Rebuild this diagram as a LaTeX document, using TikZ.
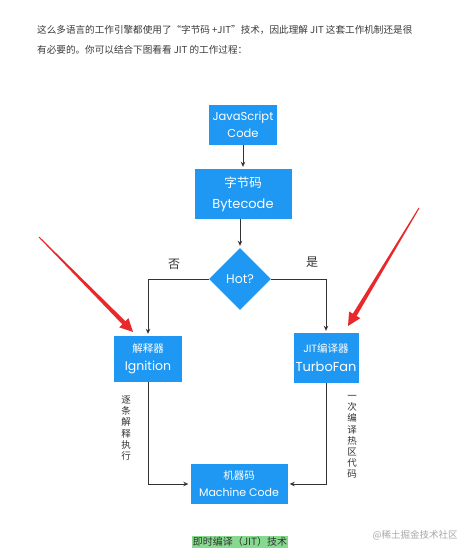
\documentclass[tikz,border=0pt]{standalone}
\usepackage{fontspec}
\setmainfont{Noto Sans CJK SC}
\newfontfamily\latinhand{Poppins}
\usetikzlibrary{arrows.meta,positioning,calc,shapes.geometric}
\definecolor{boxblue}{HTML}{1E98F2}
\definecolor{ink}{HTML}{333333}
\definecolor{markred}{HTML}{E8282B}
\definecolor{hilite}{HTML}{86D98F}
\definecolor{bodytext}{HTML}{3A3A3A}
\definecolor{wmark}{HTML}{A8A8A8}

% tapered red pointer from #1 to #2
\newcommand\markarrow[2]{%
  \coordinate (mb) at ($(#2)!13pt!(#1)$);
  \fill[markred] ($(#1)!0.5pt!90:(#2)$) -- ($(mb)!2.2pt!90:(#2)$)
    -- ($(mb)!6.5pt!90:(#2)$) -- (#2) -- ($(mb)!6.5pt!-90:(#2)$)
    -- ($(mb)!2.2pt!-90:(#2)$) -- ($(#1)!0.5pt!-90:(#2)$) -- cycle;}

\begin{document}
\begin{tikzpicture}[x=1pt,y=-1pt,
  block/.style={fill=boxblue,text=white,align=center,inner sep=0pt,
    font=\fontsize{10.5}{16}\selectfont},
  hot/.style={diamond,aspect=1,fill=boxblue,text=white,inner sep=0pt,
    minimum width=62pt,minimum height=62pt,font=\latinhand\fontsize{12.5}{14}\selectfont},
  flow/.style={-{Stealth[length=5pt,width=4.5pt]},ink,line width=0.9pt,shorten >=2pt},
  branch/.style={font=\fontsize{12}{14}\selectfont,text=ink},
  vlabel/.style={font=\fontsize{9.5}{11.2}\selectfont,text=ink,align=center,inner sep=0pt},
  para/.style={anchor=west,font=\fontsize{9.6}{13}\selectfont,text=bodytext,inner sep=0pt}]
\useasboundingbox (0,0) rectangle (474,556);
\fill[white] (0,0) rectangle (474,556);

\node[para] (line1) at (37,30) {这么多语言的工作引擎都使用了“字节码 +JIT”技术，因此理解 JIT 这套工作机制还是很};
\node[para] (line2) at (37,50) {有必要的。你可以结合下图看看 JIT 的工作过程：};

\node[block,minimum width=68pt,minimum height=40pt,font=\latinhand\fontsize{11.5}{17}\selectfont] (js) at (243,125)
  {JavaScript\\Code};
\node[block,minimum width=97pt,minimum height=50pt,font=\fontsize{12.5}{21}\selectfont] (bc) at (243,194)
  {字节码\\{\latinhand\fontsize{13}{13}\selectfont Bytecode}};
\node[hot] (check) at (240,279) {Hot?};
\node[block,minimum width=68pt,minimum height=46pt,font=\fontsize{10.5}{18}\selectfont] (ign) at (148,359)
  {解释器\\{\latinhand\fontsize{12.5}{12.5}\selectfont Ignition}};
\node[block,minimum width=65pt,minimum height=50pt,font=\fontsize{10.5}{19}\selectfont] (tf) at (326,358)
  {{\latinhand JIT}编译器\\{\latinhand\fontsize{13}{13}\selectfont TurboFan}};
\node[block,minimum width=97pt,minimum height=40pt,font=\fontsize{10.5}{17}\selectfont] (mc) at (239,484)
  {机器码\\{\latinhand\fontsize{11}{11}\selectfont Machine Code}};

\draw[flow] (js) -- (bc);
\draw[flow] (bc.south -| check.north) -- (check.north);
\draw[flow] (check.west) -| (ign.north);
\draw[flow] (check.east) -| (tf.north);
\draw[flow] (ign.south) |- (mc.west);
\draw[flow] (tf.south) |- (mc.east);

\node[branch] (no) at (174,264) {否};
\node[branch] (yes) at (312,262) {是};
\node[vlabel] (stepwise) at (126,428) {逐\\条\\解\\释\\执\\行};
\node[vlabel] (hotzone) at (352,437) {一\\次\\编\\译\\热\\区\\代\\码};

\coordinate (redL1) at (39,237);
\coordinate (redL2) at (133,332);
\coordinate (redR1) at (419,208);
\coordinate (redR2) at (348,326);
\markarrow{redL1}{redL2}
\markarrow{redR1}{redR2}

\node[fill=hilite,text=ink,inner sep=1pt,font=\fontsize{10}{12}\selectfont] (caption) at (240,542)
  {即时编译（JIT）技术};
\node[text=wmark,inner sep=0pt,font=\fontsize{9.5}{11}\selectfont] (brand) at (415,535)
  {@稀土掘金技术社区};
\end{tikzpicture}
\end{document}
